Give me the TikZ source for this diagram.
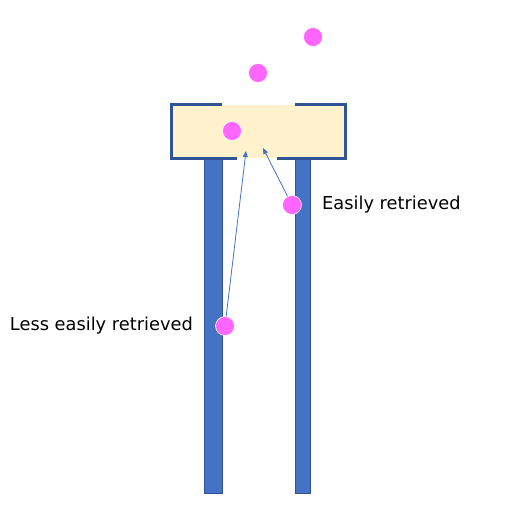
\documentclass[tikz,border=0pt]{standalone}
\usepackage{fontspec}
\setmainfont{DejaVu Sans}
\usetikzlibrary{arrows.meta}
\definecolor{cream}{HTML}{FFF2CC}
\definecolor{edge}{HTML}{2F5597}
\definecolor{colfill}{HTML}{4472C4}
\definecolor{dotc}{HTML}{FF66FF}
\tikzset{
  dot/.style={circle,fill=dotc,draw=white,line width=0.6pt,minimum size=19pt,inner sep=0pt},
  column/.style={fill=colfill,draw=edge,line width=1pt},
  rim/.style={draw=edge,line width=3pt},
  link/.style={draw=colfill,line width=0.8pt,-{Triangle[length=6pt,width=5pt]}},
  lbl/.style={font=\fontsize{17.8}{20}\selectfont,inner sep=0pt}
}
\begin{document}
\begin{tikzpicture}[x=1pt,y=-1pt]
\useasboundingbox (0,0) rectangle (513,524);
% columns
\path[column] (204,158) rectangle (222,493);
\path[column] (295,158) rectangle (310,493);
% box
\fill[cream] (171,105) rectangle (345,158);
\draw[rim] (222,105) -- (171,105) -- (171,158) -- (237,158);
\draw[rim] (295,105) -- (345,105) -- (345,158) -- (277,158);
% dots
\node[dot] (d1) at (313,37) {};
\node[dot] (d2) at (258,73) {};
\node[dot] (d3) at (232,131) {};
\node[dot] (d4) at (292,205) {};
\node[dot] (d5) at (225,326) {};
\coordinate (t1) at (246,151);
\coordinate (t2) at (263,148);
\draw[link] (d5) -- (t1);
\draw[link] (d4) -- (t2);
\node[lbl,anchor=west] (e) at (322,205) {Easily retrieved};
\node[lbl,anchor=east] (l) at (193,326) {Less easily retrieved};
\end{tikzpicture}
\end{document}
